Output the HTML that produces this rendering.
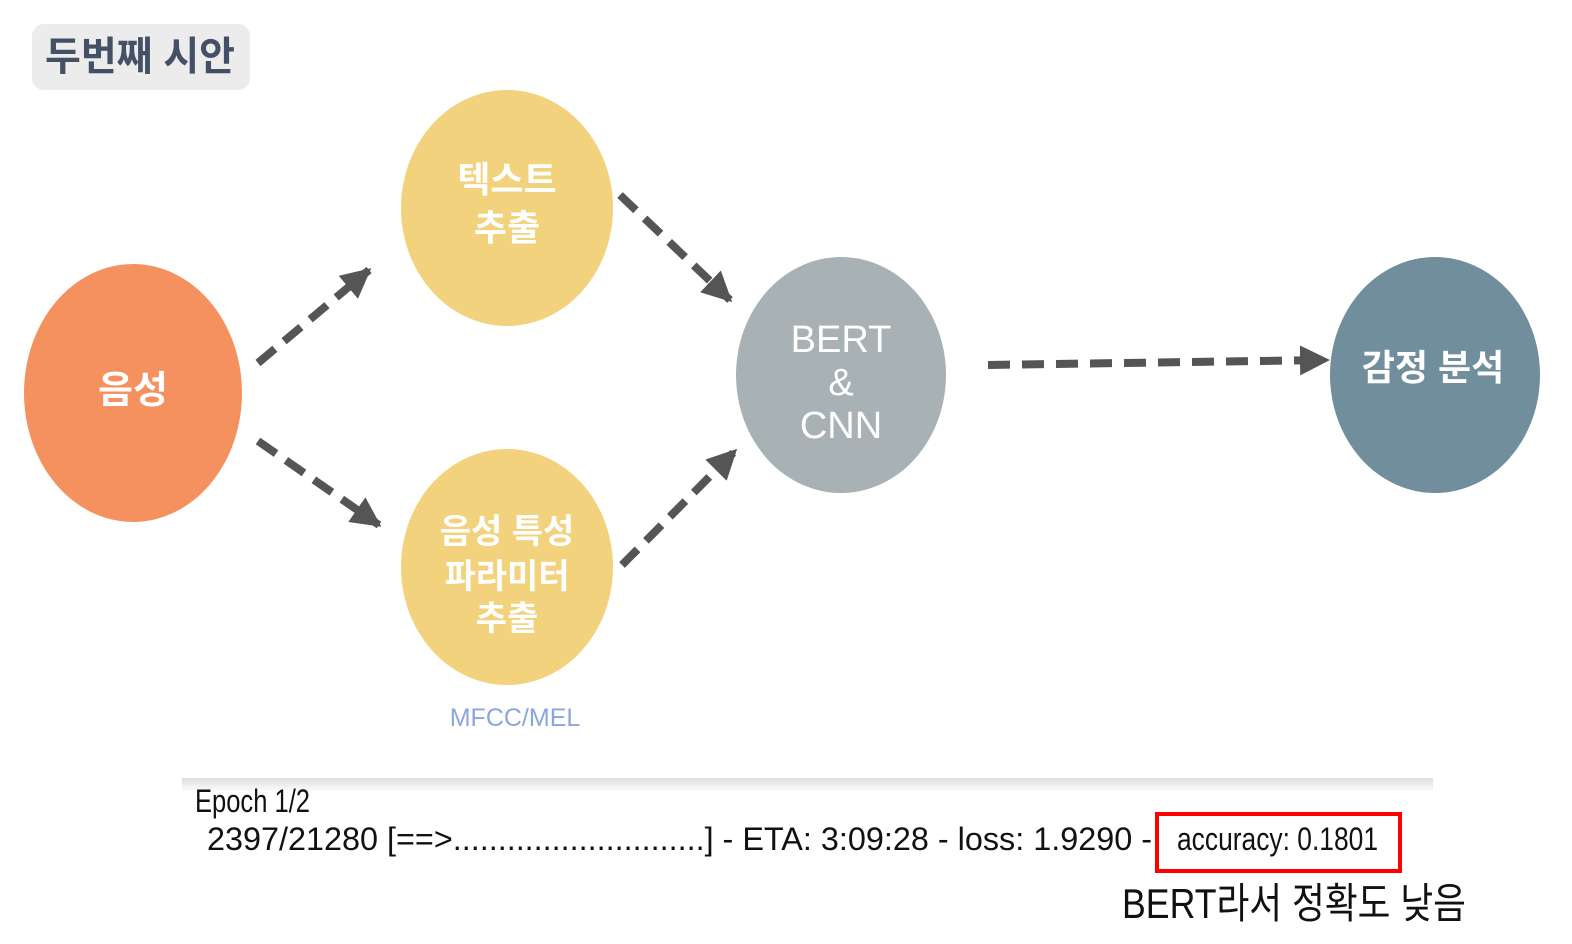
<!DOCTYPE html>
<html><head><meta charset="utf-8"><style>
body{margin:0;width:1572px;height:944px;background:#fff;overflow:hidden;position:relative;font-family:"Liberation Sans","Noto Sans CJK KR",sans-serif}
.t{position:absolute;white-space:nowrap}
</style></head><body>
<div class="t" style="left:32px;top:24px;width:218px;height:66px;background:#ececec;border-radius:12px"></div>
<svg width="1572" height="944" style="position:absolute;left:0;top:0">
<defs>
<marker id="b" viewBox="0 0 10 10" refX="9" refY="5" markerWidth="30" markerHeight="30" markerUnits="userSpaceOnUse" orient="auto"><path d="M0,0 L10,5 L0,10z" fill="#555"/></marker>
<linearGradient id="g" x1="0" y1="0" x2="0" y2="1"><stop offset="0" stop-color="#ddd"/><stop offset="1" stop-color="#fff"/></linearGradient></defs>
<text x="45" y="70" font-size="40" font-weight="bold" fill="#435066" font-family="Liberation Sans,Noto Sans CJK KR,sans-serif" textLength="190" lengthAdjust="spacingAndGlyphs">두번째 시안</text>
<ellipse cx="133" cy="393" rx="109" ry="129" fill="#F4915E"/>
<ellipse cx="507" cy="208" rx="106" ry="118" fill="#F2D27C"/>
<ellipse cx="507" cy="567" rx="106" ry="118" fill="#F2D27C"/>
<ellipse cx="841" cy="375" rx="105" ry="118" fill="#A8B1B4"/>
<ellipse cx="1435" cy="375" rx="105" ry="118" fill="#708E9C"/>
<g stroke="#555" stroke-width="8" stroke-dasharray="22,12" fill="none" marker-end="url(#b)">
<line x1="258" y1="363" x2="369" y2="270"/>
<line x1="258" y1="441" x2="379" y2="525"/>
<line x1="620" y1="195" x2="730" y2="300"/>
<line x1="622" y1="565" x2="735" y2="451"/>
<line x1="988" y1="365" x2="1327" y2="360"/>
</g>
<rect x="182" y="778" width="1251" height="14" fill="url(#g)"/>
<rect x="1157" y="814" width="243" height="57" fill="none" stroke="#f00" stroke-width="4"/>
<g font-family="Liberation Sans,Noto Sans CJK KR,sans-serif" fill="#fff" text-anchor="middle" font-weight="bold">
<text x="133" y="403" font-size="38">음성</text>
<text x="507" y="192" font-size="36">텍스트</text>
<text x="507" y="240" font-size="36">추출</text>
<text x="507" y="543" font-size="34">음성 특성</text>
<text x="507" y="588" font-size="34">파라미터</text>
<text x="507" y="630" font-size="34">추출</text>
<text x="841" y="352" font-size="38" font-weight="normal">BERT</text>
<text x="841" y="395" font-size="38" font-weight="normal">&amp;</text>
<text x="841" y="438" font-size="38" font-weight="normal">CNN</text>
<text x="1433" y="380" font-size="36">감정 분석</text>
</g>
<text x="515" y="726" font-size="25" fill="#8AA6E0" text-anchor="middle" font-family="Liberation Sans,sans-serif">MFCC/MEL</text>
<g font-family="Liberation Sans Narrow,Liberation Sans,sans-serif" fill="#111" font-size="32">
<text x="195" y="812" textLength="115" lengthAdjust="spacingAndGlyphs">Epoch 1/2</text>
<text x="207" y="850" textLength="945" lengthAdjust="spacingAndGlyphs">2397/21280 [==&gt;............................] - ETA: 3:09:28 - loss: 1.9290 -</text>
<text x="1177" y="850" textLength="201" lengthAdjust="spacingAndGlyphs">accuracy: 0.1801</text>
</g>
<text x="1122" y="918" font-size="42" fill="#111" font-family="Liberation Sans,Noto Sans CJK KR,sans-serif" textLength="344" lengthAdjust="spacingAndGlyphs">BERT라서 정확도 낮음</text>
</svg>
</body></html>
